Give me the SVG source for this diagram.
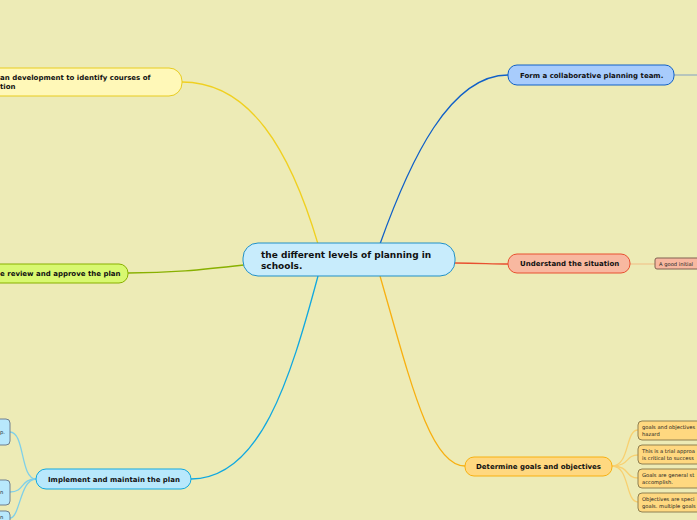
<svg xmlns="http://www.w3.org/2000/svg" width="697" height="520" viewBox="0 0 697 520">
<style>
.t{font-family:"DejaVu Sans",Verdana,sans-serif;font-weight:bold;font-size:7px;fill:#111}
.s{font-family:"DejaVu Sans",Verdana,sans-serif;font-size:5.2px;fill:#222}
.c{fill:none;stroke-width:1.3}
</style>
<rect width="697" height="520" fill="#edebb6"/>
<g id="connectors">
<path class="c" stroke="#f0d020" d="M318,244 C290,150 250,82 182,82"/>
<path class="c" stroke="#88b000" d="M244,265 C200,270 170,273 128,273"/>
<path class="c" stroke="#10a8e0" d="M318,276 C290,380 260,479 191,479"/>
<path class="c" stroke="#1060c8" d="M380,244 C410,160 450,75 508,75"/>
<path class="c" stroke="#e85030" d="M455,263 C480,263 490,264 508,264"/>
<path class="c" stroke="#f8b010" d="M380,276 C410,380 430,466 465,466"/>
<path class="c" stroke="#9ab0c0" d="M674,75 L697,75"/>
<path class="c" stroke="#f0c890" d="M630,264 L656,264"/>
<g stroke="#f8d070" class="c">
<path d="M612,466 C630,466 625,430 638,430"/>
<path d="M612,466 C630,466 625,455 638,455"/>
<path d="M612,466 C630,466 625,478 638,478"/>
<path d="M612,466 C630,466 625,502 638,502"/>
</g>
<g stroke="#80d0e8" class="c">
<path d="M36,479 C20,479 25,432 10,432"/>
<path d="M36,479 C20,479 25,492 10,492"/>
<path d="M36,479 C20,479 20,518 10,518"/>
</g>
</g>
<g id="center"><rect x="243" y="243" width="212" height="33" rx="15" fill="#c8ecfc" stroke="#2090c8"/>
<text class="t" x="261" y="258" style="font-size:9px">the different levels of planning in</text>
<text class="t" x="261" y="269" style="font-size:9px">schools.</text></g>
<g id="n1"><rect x="-20" y="68" width="202" height="28" rx="13" fill="#fff8b8" stroke="#e8cc20"/>
<text class="t" x="0" y="80">an development to identify courses of</text><text class="t" x="0" y="89">tion</text></g>
<g id="n2"><rect x="-20" y="264" width="148" height="19" rx="9" fill="#d8f870" stroke="#88b000"/>
<text class="t" x="0" y="276">e review and approve the plan</text></g>
<g id="n3"><rect x="36" y="469" width="155" height="20" rx="10" fill="#b8e8fc" stroke="#10a8e0"/>
<text class="t" x="48" y="482">Implement and maintain the plan</text></g>
<g id="n3a"><rect x="-10" y="419" width="20" height="26" rx="4" fill="#b8e8fc" stroke="#708090"/><text class="s" x="0" y="434">p.</text></g>
<g id="n3b"><rect x="-10" y="480" width="20" height="25" rx="4" fill="#b8e8fc" stroke="#708090"/><text class="s" x="0" y="494">n</text></g>
<g id="n3c"><rect x="-10" y="511" width="20" height="20" rx="4" fill="#b8e8fc" stroke="#708090"/><text class="s" x="0" y="519">n</text></g>
<g id="n4"><rect x="508" y="65" width="166" height="20" rx="9" fill="#a8ccfc" stroke="#1060c8"/>
<text class="t" x="520" y="78">Form a collaborative planning team.</text></g>
<g id="n5"><rect x="508" y="254" width="122" height="19" rx="9" fill="#f8b8a0" stroke="#e85030"/>
<text class="t" x="520" y="266">Understand the situation</text></g>
<g id="n5a"><rect x="655" y="258" width="50" height="11" rx="2" fill="#f8b8a0" stroke="#806050"/><text class="s" x="659" y="266">A good initial</text></g>
<g id="n6"><rect x="465" y="457" width="147" height="19" rx="9" fill="#ffd880" stroke="#f8b010"/>
<text class="t" x="476" y="469">Determine goals and objectives</text></g>
<g fill="#ffd880" stroke="#908050">
<g id="g1"><rect x="638" y="421" width="70" height="19" rx="4"/><text class="s" x="642" y="429" stroke="none">goals and objectives</text><text class="s" x="642" y="436" stroke="none">hazard</text></g>
<g id="g2"><rect x="638" y="445" width="70" height="19" rx="4"/><text class="s" x="642" y="453" stroke="none">This is a trial approa</text><text class="s" x="642" y="460" stroke="none">is critical to success</text></g>
<g id="g3"><rect x="638" y="469" width="70" height="19" rx="4"/><text class="s" x="642" y="477" stroke="none">Goals are general st</text><text class="s" x="642" y="484" stroke="none">accomplish.</text></g>
<g id="g4"><rect x="638" y="493" width="70" height="19" rx="4"/><text class="s" x="642" y="501" stroke="none">Objectives are speci</text><text class="s" x="642" y="508" stroke="none">goals. multiple goals</text></g>
</g>
</svg>
